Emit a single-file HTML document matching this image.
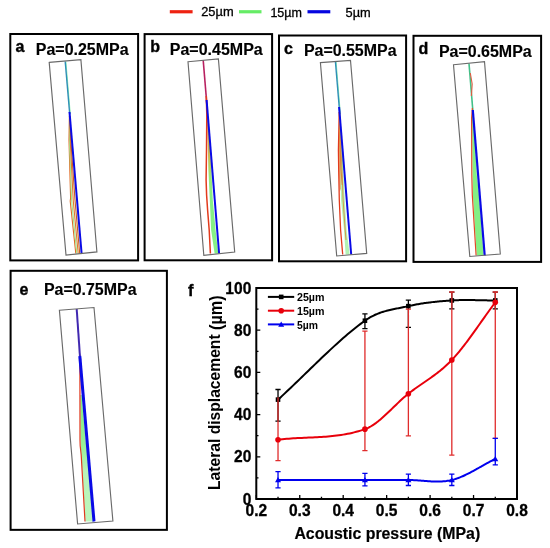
<!DOCTYPE html>
<html><head><meta charset="utf-8"><title>Figure</title>
<style>
html,body{margin:0;padding:0;background:#fff;}
body{width:550px;height:548px;overflow:hidden;}
svg{display:block;font-family:"Liberation Sans", Arial, sans-serif;}
</style></head>
<body>
<svg width="550" height="548" viewBox="0 0 550 548">
<defs><linearGradient id="gb" x1="0" y1="115" x2="0" y2="253" gradientUnits="userSpaceOnUse"><stop offset="0" stop-color="#e08a38"/><stop offset="0.3" stop-color="#c8c058"/><stop offset="0.45" stop-color="#9ae878"/><stop offset="0.6" stop-color="#86f086"/><stop offset="1" stop-color="#86f086"/></linearGradient><linearGradient id="ge" x1="0" y1="395" x2="0" y2="521" gradientUnits="userSpaceOnUse"><stop offset="0" stop-color="#80ee80"/><stop offset="0.4" stop-color="#98f098"/><stop offset="0.6" stop-color="#b8f4b8"/><stop offset="1" stop-color="#bcf6bc"/></linearGradient></defs>
<rect width="550" height="548" fill="#fff"/>
<line x1="169.8" y1="11.75" x2="192.6" y2="11.75" stroke="#ee2211" stroke-width="3.2"/>
<text x="201.2" y="16" font-size="12.2" font-weight="normal" text-anchor="start" fill="#000" textLength="32.4" lengthAdjust="spacingAndGlyphs" stroke="#000" stroke-width="0.3">25µm</text>
<line x1="239" y1="11.75" x2="261.5" y2="11.75" stroke="#66ec66" stroke-width="3.2"/>
<text x="270.4" y="16.5" font-size="12.2" font-weight="normal" text-anchor="start" fill="#000" textLength="31.6" lengthAdjust="spacingAndGlyphs" stroke="#000" stroke-width="0.3">15µm</text>
<line x1="307.5" y1="11.75" x2="330.3" y2="11.75" stroke="#0606e0" stroke-width="3.2"/>
<text x="345.6" y="17.4" font-size="12.2" font-weight="normal" text-anchor="start" fill="#000" textLength="25.2" lengthAdjust="spacingAndGlyphs" stroke="#000" stroke-width="0.3">5µm</text>
<rect x="10.3" y="34" width="127.8" height="226.4" fill="none" stroke="#000" stroke-width="2"/>
<text x="15.6" y="52.2" font-size="16" font-weight="bold" text-anchor="start" fill="#000" stroke="#000" stroke-width="0.35">a</text>
<text x="35.8" y="54.9" font-size="16" font-weight="bold" text-anchor="start" fill="#000" textLength="92.8" lengthAdjust="spacingAndGlyphs" stroke="#000" stroke-width="0.15">Pa=0.25MPa</text>
<path d="M65.9 61.5 L70.3 114" fill="none" stroke="#8cf0b0" stroke-width="1.0" stroke-linejoin="round" stroke-linecap="butt" opacity="1"/>
<path d="M65.2 61.5 L69.7 114" fill="none" stroke="#2f8fb8" stroke-width="1.4" stroke-linejoin="round" stroke-linecap="butt" opacity="1"/>
<path d="M69.4 116 L69 140 L70.6 198 L70.2 201 L75.8 253.5" fill="none" stroke="#e06a24" stroke-width="1.1" stroke-linejoin="round" stroke-linecap="butt" opacity="1"/>
<path d="M69.5 116 L69.5 140 L71.6 200 L76.8 253.5" fill="none" stroke="#a0e890" stroke-width="1.1" stroke-linejoin="round" stroke-linecap="butt" opacity="1"/>
<path d="M69.7 116 L70.2 140 L73.2 200 L78.2 253.5" fill="none" stroke="#e07a30" stroke-width="1.1" stroke-linejoin="round" stroke-linecap="butt" opacity="1"/>
<path d="M69.9 116 L70.8 140 L75 200 L79.7 253.5" fill="none" stroke="#c86020" stroke-width="1.1" stroke-linejoin="round" stroke-linecap="butt" opacity="1"/>
<path d="M69.5 112 L81.6 253.5" fill="none" stroke="#0a0ae6" stroke-width="2.0" stroke-linejoin="round" stroke-linecap="butt" opacity="1"/>
<path d="M49.2 62.4 L80.9 59.6 L96.9 251.9 L66 255.1 Z" fill="none" stroke="#6a6a6a" stroke-width="1.15"/>
<rect x="144.6" y="34.1" width="127.5" height="226.2" fill="none" stroke="#000" stroke-width="2"/>
<text x="150.2" y="52.3" font-size="16" font-weight="bold" text-anchor="start" fill="#000" stroke="#000" stroke-width="0.35">b</text>
<text x="169.8" y="54.7" font-size="16" font-weight="bold" text-anchor="start" fill="#000" textLength="92.9" lengthAdjust="spacingAndGlyphs" stroke="#000" stroke-width="0.15">Pa=0.45MPa</text>
<path d="M207 115 L207.6 140 L208.4 170 L209.8 200 L211.1 230 L214.6 253.5 L218.2 253.5 L215.6 230 L212.8 200 L211.4 170 L209.6 140 L207.8 115Z" fill="url(#gb)" stroke="none" opacity="1"/>
<path d="M203.2 60.2 L207 106" fill="none" stroke="#b82060" stroke-width="1.6" stroke-linejoin="round" stroke-linecap="butt" opacity="1"/>
<path d="M206.3 96 L206.8 115 L206.5 150 L206.1 180 L206.6 195 L207.6 210 L209.2 230 L210.4 253.5" fill="none" stroke="#e23a1c" stroke-width="1.5" stroke-linejoin="round" stroke-linecap="butt" opacity="1"/>
<path d="M206.6 100 L219.1 253.5" fill="none" stroke="#0a0ae6" stroke-width="2.0" stroke-linejoin="round" stroke-linecap="butt" opacity="1"/>
<path d="M188 61.8 L218.4 59 L234.7 252.1 L203.8 255.3 Z" fill="none" stroke="#6a6a6a" stroke-width="1.15"/>
<rect x="279" y="35.5" width="127.1" height="225.8" fill="none" stroke="#000" stroke-width="2"/>
<text x="284" y="53.6" font-size="16" font-weight="bold" text-anchor="start" fill="#000" stroke="#000" stroke-width="0.35">c</text>
<text x="303.9" y="55.9" font-size="16" font-weight="bold" text-anchor="start" fill="#000" textLength="92.6" lengthAdjust="spacingAndGlyphs" stroke="#000" stroke-width="0.15">Pa=0.55MPa</text>
<path d="M339.3 114 L338.6 150 L338.9 175 L339.6 192 L342.6 185 L341.6 160 L340.2 125Z" fill="#e8a060" stroke="none" opacity="0.85"/>
<path d="M340.4 160 L341 200 L344 230 L345.6 254.5 L349.6 254.5 L346.6 230 L344.8 200 L343.2 170 L342 160Z" fill="#b4f2b4" stroke="none" opacity="1"/>
<path d="M336.1 61.5 L340.4 114" fill="none" stroke="#8cf0b0" stroke-width="1.0" stroke-linejoin="round" stroke-linecap="butt" opacity="1"/>
<path d="M335.4 61.5 L339.8 114" fill="none" stroke="#2f8fb8" stroke-width="1.4" stroke-linejoin="round" stroke-linecap="butt" opacity="1"/>
<path d="M339.2 112 L338.4 150 L338.7 170 L339.3 200 L340.6 230 L342.7 254.5" fill="none" stroke="#e23a1c" stroke-width="1.3" stroke-linejoin="round" stroke-linecap="butt" opacity="1"/>
<path d="M339.4 112 L340.2 150 L341 170 L342.3 185" fill="none" stroke="#d8883a" stroke-width="1.2" stroke-linejoin="round" stroke-linecap="butt" opacity="1"/>
<path d="M339.6 112 L341.2 150 L342 170 L343.1 200 L345.2 230 L346 240" fill="none" stroke="#d89040" stroke-width="0.9" stroke-linejoin="round" stroke-linecap="butt" opacity="1"/>
<path d="M339.7 112 L342 150 L343 170" fill="none" stroke="#a8e070" stroke-width="1.0" stroke-linejoin="round" stroke-linecap="butt" opacity="1"/>
<path d="M339.1 107 L351.2 254.5" fill="none" stroke="#0a0ae6" stroke-width="2.0" stroke-linejoin="round" stroke-linecap="butt" opacity="1"/>
<path d="M320.4 62.6 L350.5 60.4 L366.7 253.4 L336.7 256 Z" fill="none" stroke="#6a6a6a" stroke-width="1.15"/>
<rect x="413.5" y="35.8" width="127.6" height="226.1" fill="none" stroke="#000" stroke-width="2"/>
<text x="418.6" y="53.9" font-size="16" font-weight="bold" text-anchor="start" fill="#000" stroke="#000" stroke-width="0.35">d</text>
<text x="438.9" y="56.5" font-size="16" font-weight="bold" text-anchor="start" fill="#000" textLength="92.8" lengthAdjust="spacingAndGlyphs" stroke="#000" stroke-width="0.15">Pa=0.65MPa</text>
<path d="M472 112 L472.6 175 L472.9 195 L476.7 255.5 L483.6 255.5 L479 195 L476.8 175 L473.2 112Z" fill="#84f084" stroke="none" opacity="1"/>
<path d="M469 63.5 L473.2 115" fill="none" stroke="#40c088" stroke-width="1.6" stroke-linejoin="round" stroke-linecap="butt" opacity="1"/>
<path d="M470.3 73 L472.2 84 L471.4 96" fill="none" stroke="#e05a40" stroke-width="1.1" stroke-linejoin="round" stroke-linecap="butt" opacity="1"/>
<path d="M472.4 108 L471.6 118 L471.7 150 L471.8 175 L472.3 195 L476.1 255.5" fill="none" stroke="#e04a26" stroke-width="1.2" stroke-linejoin="round" stroke-linecap="butt" opacity="1"/>
<path d="M472.8 110 L484.7 255.5" fill="none" stroke="#0a0ae6" stroke-width="2.2" stroke-linejoin="round" stroke-linecap="butt" opacity="1"/>
<path d="M453.5 64.7 L484.5 61.7 L500.3 254 L469.8 256.5 Z" fill="none" stroke="#6a6a6a" stroke-width="1.15"/>
<rect x="10.6" y="270.8" width="156.3" height="259.05" fill="none" stroke="#000" stroke-width="2"/>
<text x="19.6" y="295" font-size="16" font-weight="bold" text-anchor="start" fill="#000" stroke="#000" stroke-width="0.35">e</text>
<text x="43.9" y="295" font-size="16" font-weight="bold" text-anchor="start" fill="#000" textLength="92.6" lengthAdjust="spacingAndGlyphs" stroke="#000" stroke-width="0.15">Pa=0.75MPa</text>
<path d="M80.3 395 L80.6 440 L81.3 455 L85.4 521.5 L92.8 521.5 L87.6 455 L85.6 440 L81.6 395Z" fill="url(#ge)" stroke="none" opacity="1"/>
<path d="M76.7 309 L80.2 360" fill="none" stroke="#4028b0" stroke-width="2.0" stroke-linejoin="round" stroke-linecap="butt" opacity="1"/>
<path d="M79.5 358 L79.9 370 L80 440 L80.2 446 L81.2 455 L85 521.5" fill="none" stroke="#e03a20" stroke-width="1.2" stroke-linejoin="round" stroke-linecap="butt" opacity="1"/>
<path d="M79.8 356 L94 521.5" fill="none" stroke="#0a0ae6" stroke-width="3.0" stroke-linejoin="round" stroke-linecap="butt" opacity="1"/>
<path d="M59.4 310.3 L94 307.5 L112.9 521 L77.6 524 Z" fill="none" stroke="#6a6a6a" stroke-width="1.15"/>
<text x="188" y="295.7" font-size="16.5" font-weight="bold" text-anchor="start" fill="#000" stroke="#000" stroke-width="0.35">f</text>
<path d="M256.3 499 V495 M299.75 499 V495 M343.2 499 V495 M386.65 499 V495 M430.1 499 V495 M473.55 499 V495 M517 499 V495 M278.02 499 V496.8 M321.48 499 V496.8 M364.93 499 V496.8 M408.38 499 V496.8 M451.82 499 V496.8 M495.28 499 V496.8 M256.3 499 H260.3 M256.3 456.8 H260.3 M256.3 414.6 H260.3 M256.3 372.4 H260.3 M256.3 330.2 H260.3 M256.3 288 H260.3 M256.3 477.9 H258.5 M256.3 435.7 H258.5 M256.3 393.5 H258.5 M256.3 351.3 H258.5 M256.3 309.1 H258.5" stroke="#000" stroke-width="1.3" fill="none"/>
<text transform="translate(251.3 504.6) scale(0.955 1)" font-size="16.3" font-weight="bold" text-anchor="end" fill="#000" stroke="#000" stroke-width="0.3">0</text>
<text transform="translate(251.3 462.4) scale(0.955 1)" font-size="16.3" font-weight="bold" text-anchor="end" fill="#000" stroke="#000" stroke-width="0.3">20</text>
<text transform="translate(251.3 420.2) scale(0.955 1)" font-size="16.3" font-weight="bold" text-anchor="end" fill="#000" stroke="#000" stroke-width="0.3">40</text>
<text transform="translate(251.3 378) scale(0.955 1)" font-size="16.3" font-weight="bold" text-anchor="end" fill="#000" stroke="#000" stroke-width="0.3">60</text>
<text transform="translate(251.3 335.8) scale(0.955 1)" font-size="16.3" font-weight="bold" text-anchor="end" fill="#000" stroke="#000" stroke-width="0.3">80</text>
<text transform="translate(251.3 293.6) scale(0.955 1)" font-size="16.3" font-weight="bold" text-anchor="end" fill="#000" stroke="#000" stroke-width="0.3">100</text>
<text transform="translate(256.3 515.8) scale(0.955 1)" font-size="16.3" font-weight="bold" text-anchor="middle" fill="#000" stroke="#000" stroke-width="0.3">0.2</text>
<text transform="translate(299.75 515.8) scale(0.955 1)" font-size="16.3" font-weight="bold" text-anchor="middle" fill="#000" stroke="#000" stroke-width="0.3">0.3</text>
<text transform="translate(343.2 515.8) scale(0.955 1)" font-size="16.3" font-weight="bold" text-anchor="middle" fill="#000" stroke="#000" stroke-width="0.3">0.4</text>
<text transform="translate(386.65 515.8) scale(0.955 1)" font-size="16.3" font-weight="bold" text-anchor="middle" fill="#000" stroke="#000" stroke-width="0.3">0.5</text>
<text transform="translate(430.1 515.8) scale(0.955 1)" font-size="16.3" font-weight="bold" text-anchor="middle" fill="#000" stroke="#000" stroke-width="0.3">0.6</text>
<text transform="translate(473.55 515.8) scale(0.955 1)" font-size="16.3" font-weight="bold" text-anchor="middle" fill="#000" stroke="#000" stroke-width="0.3">0.7</text>
<text transform="translate(517 515.8) scale(0.955 1)" font-size="16.3" font-weight="bold" text-anchor="middle" fill="#000" stroke="#000" stroke-width="0.3">0.8</text>
<text x="294.4" y="538.5" font-size="16.3" font-weight="bold" text-anchor="start" fill="#000" textLength="185.8" lengthAdjust="spacingAndGlyphs" stroke="#000" stroke-width="0.2">Acoustic pressure (MPa)</text>
<text x="0" y="0" font-size="17.2" font-weight="bold" transform="translate(220.0 490) rotate(-90)" textLength="155.6" lengthAdjust="spacingAndGlyphs" fill="#000">Lateral displacement</text>
<text x="0" y="0" font-size="17.6" font-weight="bold" transform="translate(221.6 330) rotate(-90)" textLength="34.6" lengthAdjust="spacingAndGlyphs" fill="#000">(µm)</text>
<path d="M278.02 389.49 V421.14 M275.42 389.49 H280.62 M275.42 421.14 H280.62 M364.93 313.95 V328.72 M362.32 313.95 H367.53 M362.32 328.72 H367.53 M408.38 300.03 V327.46 M405.77 300.03 H410.98 M405.77 327.46 H410.98 M451.82 292.22 V308.89 M449.22 292.22 H454.43 M449.22 308.89 H454.43 M495.28 292.22 V308.89 M492.68 292.22 H497.88 M492.68 308.89 H497.88" stroke="#000000" stroke-width="1.3" fill="none"/>
<path d="M278.02 399.62 L280.2 397.64 L282.37 395.63 L284.54 393.61 L286.71 391.58 L288.89 389.53 L291.06 387.46 L293.23 385.39 L295.4 383.31 L297.58 381.21 L299.75 379.11 L301.92 377.01 L304.09 374.9 L306.27 372.79 L308.44 370.68 L310.61 368.57 L312.78 366.46 L314.96 364.36 L317.13 362.26 L319.3 360.17 L321.48 358.09 L323.65 356.02 L325.82 353.96 L327.99 351.91 L330.17 349.88 L332.34 347.87 L334.51 345.87 L336.68 343.89 L338.86 341.94 L341.03 340.01 L343.2 338.1 L345.37 336.22 L347.55 334.36 L349.72 332.54 L351.89 330.74 L354.06 328.98 L356.24 327.25 L358.41 325.56 L360.58 323.9 L362.75 322.28 L364.93 320.71 L366.01 319.94 L367.1 319.22 L368.18 318.52 L369.27 317.86 L370.36 317.24 L371.44 316.64 L372.53 316.07 L373.62 315.53 L374.7 315.01 L375.79 314.52 L376.87 314.06 L377.96 313.62 L379.05 313.2 L380.13 312.8 L381.22 312.42 L382.31 312.07 L383.39 311.72 L384.48 311.4 L385.56 311.09 L386.65 310.8 L387.74 310.52 L388.82 310.25 L389.91 309.99 L391 309.74 L392.08 309.5 L393.17 309.26 L394.25 309.04 L395.34 308.82 L396.43 308.6 L397.51 308.38 L398.6 308.17 L399.69 307.96 L400.77 307.75 L401.86 307.53 L402.94 307.31 L404.03 307.09 L405.12 306.87 L406.2 306.63 L407.29 306.39 L408.38 306.15 L409.46 305.9 L410.55 305.65 L411.63 305.42 L412.72 305.19 L413.81 304.97 L414.89 304.76 L415.98 304.55 L417.06 304.35 L418.15 304.15 L419.24 303.97 L420.32 303.78 L421.41 303.61 L422.5 303.44 L423.58 303.27 L424.67 303.11 L425.75 302.96 L426.84 302.81 L427.93 302.66 L429.01 302.52 L430.1 302.39 L431.19 302.26 L432.27 302.13 L433.36 302.01 L434.44 301.89 L435.53 301.78 L436.62 301.67 L437.7 301.56 L438.79 301.46 L439.88 301.36 L440.96 301.26 L442.05 301.17 L443.13 301.08 L444.22 300.99 L445.31 300.91 L446.39 300.83 L447.48 300.75 L448.57 300.67 L449.65 300.59 L450.74 300.52 L451.82 300.45 L452.91 300.38 L454 300.32 L455.08 300.27 L456.17 300.22 L457.26 300.18 L458.34 300.14 L459.43 300.11 L460.51 300.08 L461.6 300.06 L462.69 300.05 L463.77 300.04 L464.86 300.03 L465.95 300.03 L467.03 300.03 L468.12 300.03 L469.2 300.04 L470.29 300.05 L471.38 300.06 L472.46 300.08 L473.55 300.09 L474.64 300.11 L475.72 300.13 L476.81 300.15 L477.9 300.18 L478.98 300.2 L480.07 300.22 L481.15 300.25 L482.24 300.27 L483.33 300.29 L484.41 300.32 L485.5 300.34 L486.59 300.36 L487.67 300.38 L488.76 300.39 L489.84 300.41 L490.93 300.42 L492.02 300.43 L493.1 300.44 L494.19 300.45 L495.28 300.45" stroke="#000000" stroke-width="2" fill="none" stroke-linejoin="round"/>
<rect x="275.72" y="397.32" width="4.6" height="4.6" fill="#000000"/>
<rect x="362.62" y="318.41" width="4.6" height="4.6" fill="#000000"/>
<rect x="406.07" y="303.85" width="4.6" height="4.6" fill="#000000"/>
<rect x="449.52" y="298.15" width="4.6" height="4.6" fill="#000000"/>
<rect x="492.98" y="298.15" width="4.6" height="4.6" fill="#000000"/>
<path d="M278.02 397.3 V460.6 M275.42 460.6 H280.62 M364.93 331.04 V450.68 M362.32 331.04 H367.53 M362.32 450.68 H367.53 M408.38 309.1 V435.91 M405.77 309.1 H410.98 M405.77 435.91 H410.98 M451.82 292.01 V455.11 M449.22 292.01 H454.43 M449.22 455.11 H454.43 M495.28 292.01 V438.44 M492.68 292.01 H497.88 M492.68 438.44 H497.88" stroke="#e02c2c" stroke-width="1.3" fill="none"/>
<path d="M278.02 439.71 L280.2 439.46 L282.37 439.23 L284.54 439.02 L286.71 438.84 L288.89 438.67 L291.06 438.51 L293.23 438.37 L295.4 438.24 L297.58 438.12 L299.75 438.01 L301.92 437.91 L304.09 437.81 L306.27 437.71 L308.44 437.62 L310.61 437.52 L312.78 437.42 L314.96 437.31 L317.13 437.2 L319.3 437.08 L321.48 436.95 L323.65 436.8 L325.82 436.64 L327.99 436.47 L330.17 436.28 L332.34 436.06 L334.51 435.83 L336.68 435.57 L338.86 435.28 L341.03 434.97 L343.2 434.63 L345.37 434.25 L347.55 433.84 L349.72 433.4 L351.89 432.92 L354.06 432.4 L356.24 431.84 L358.41 431.24 L360.58 430.59 L362.75 429.9 L364.93 429.16 L366.01 428.75 L367.1 428.29 L368.18 427.79 L369.27 427.24 L370.36 426.64 L371.44 426.01 L372.53 425.33 L373.62 424.62 L374.7 423.87 L375.79 423.09 L376.87 422.27 L377.96 421.43 L379.05 420.56 L380.13 419.66 L381.22 418.74 L382.31 417.8 L383.39 416.83 L384.48 415.85 L385.56 414.85 L386.65 413.84 L387.74 412.82 L388.82 411.79 L389.91 410.75 L391 409.7 L392.08 408.65 L393.17 407.59 L394.25 406.54 L395.34 405.49 L396.43 404.44 L397.51 403.4 L398.6 402.36 L399.69 401.34 L400.77 400.32 L401.86 399.32 L402.94 398.34 L404.03 397.37 L405.12 396.42 L406.2 395.49 L407.29 394.59 L408.38 393.71 L409.46 392.85 L410.55 392.01 L411.63 391.19 L412.72 390.37 L413.81 389.57 L414.89 388.78 L415.98 388 L417.06 387.23 L418.15 386.47 L419.24 385.71 L420.32 384.96 L421.41 384.21 L422.5 383.46 L423.58 382.72 L424.67 381.98 L425.75 381.23 L426.84 380.48 L427.93 379.73 L429.01 378.98 L430.1 378.22 L431.19 377.45 L432.27 376.67 L433.36 375.89 L434.44 375.09 L435.53 374.28 L436.62 373.46 L437.7 372.63 L438.79 371.78 L439.88 370.91 L440.96 370.03 L442.05 369.12 L443.13 368.2 L444.22 367.26 L445.31 366.29 L446.39 365.3 L447.48 364.29 L448.57 363.24 L449.65 362.17 L450.74 361.08 L451.82 359.95 L452.91 358.79 L454 357.61 L455.08 356.4 L456.17 355.16 L457.26 353.89 L458.34 352.6 L459.43 351.29 L460.51 349.96 L461.6 348.6 L462.69 347.23 L463.77 345.83 L464.86 344.42 L465.95 343 L467.03 341.55 L468.12 340.1 L469.2 338.63 L470.29 337.14 L471.38 335.65 L472.46 334.15 L473.55 332.64 L474.64 331.12 L475.72 329.6 L476.81 328.07 L477.9 326.53 L478.98 325 L480.07 323.46 L481.15 321.92 L482.24 320.38 L483.33 318.84 L484.41 317.31 L485.5 315.78 L486.59 314.25 L487.67 312.73 L488.76 311.22 L489.84 309.71 L490.93 308.22 L492.02 306.73 L493.1 305.26 L494.19 303.8 L495.28 302.35" stroke="#e8000b" stroke-width="2" fill="none" stroke-linejoin="round"/>
<circle cx="278.02" cy="439.71" r="2.8" fill="#e8000b"/>
<circle cx="364.93" cy="429.16" r="2.8" fill="#e8000b"/>
<circle cx="408.38" cy="393.71" r="2.8" fill="#e8000b"/>
<circle cx="451.82" cy="359.95" r="2.8" fill="#e8000b"/>
<circle cx="495.28" cy="302.35" r="2.8" fill="#e8000b"/>
<path d="M278.02 471.57 V487.82 M275.42 471.57 H280.62 M275.42 487.82 H280.62 M364.93 473.47 V485.92 M362.32 473.47 H367.53 M362.32 485.92 H367.53 M408.38 474.1 V485.5 M405.77 474.1 H410.98 M405.77 485.5 H410.98 M451.82 474.1 V485.5 M449.22 474.1 H454.43 M449.22 485.5 H454.43 M495.28 438.44 V464.82 M492.68 438.44 H497.88 M492.68 464.82 H497.88" stroke="#0000ee" stroke-width="1.3" fill="none"/>
<path d="M278.02 480.01 L280.2 480.01 L282.37 480.01 L284.54 480.01 L286.71 480.01 L288.89 480.01 L291.06 480.01 L293.23 480.01 L295.4 480.01 L297.58 480.01 L299.75 480.01 L301.92 480.01 L304.09 480.01 L306.27 480.01 L308.44 480.01 L310.61 480.01 L312.78 480.01 L314.96 480.01 L317.13 480.01 L319.3 480.01 L321.48 480.01 L323.65 480.01 L325.82 480.01 L327.99 480.01 L330.17 480.01 L332.34 480.01 L334.51 480.01 L336.68 480.01 L338.86 480.01 L341.03 480.01 L343.2 480.01 L345.37 480.01 L347.55 480.01 L349.72 480.01 L351.89 480.01 L354.06 480.01 L356.24 480.01 L358.41 480.01 L360.58 480.01 L362.75 480.01 L364.93 480.01 L366.01 480.01 L367.1 480.01 L368.18 480.01 L369.27 480.01 L370.36 480.01 L371.44 480.01 L372.53 480.01 L373.62 480.01 L374.7 480.01 L375.79 480.01 L376.87 480.01 L377.96 480.01 L379.05 480.01 L380.13 480.01 L381.22 480.01 L382.31 480.01 L383.39 480.01 L384.48 480.01 L385.56 480.01 L386.65 480.01 L387.74 480.01 L388.82 480.01 L389.91 480.01 L391 480.01 L392.08 480.01 L393.17 480.01 L394.25 480.01 L395.34 480.01 L396.43 480.01 L397.51 480.01 L398.6 480.01 L399.69 480.01 L400.77 480.01 L401.86 480.01 L402.94 480.01 L404.03 480.01 L405.12 480.01 L406.2 480.01 L407.29 480.01 L408.38 480.01 L409.46 480.02 L410.55 480.04 L411.63 480.06 L412.72 480.1 L413.81 480.15 L414.89 480.21 L415.98 480.28 L417.06 480.35 L418.15 480.42 L419.24 480.5 L420.32 480.59 L421.41 480.67 L422.5 480.76 L423.58 480.85 L424.67 480.94 L425.75 481.02 L426.84 481.11 L427.93 481.19 L429.01 481.26 L430.1 481.33 L431.19 481.39 L432.27 481.45 L433.36 481.49 L434.44 481.53 L435.53 481.56 L436.62 481.57 L437.7 481.57 L438.79 481.56 L439.88 481.53 L440.96 481.49 L442.05 481.44 L443.13 481.36 L444.22 481.27 L445.31 481.15 L446.39 481.02 L447.48 480.86 L448.57 480.69 L449.65 480.49 L450.74 480.26 L451.82 480.01 L452.91 479.73 L454 479.43 L455.08 479.1 L456.17 478.75 L457.26 478.38 L458.34 477.99 L459.43 477.57 L460.51 477.14 L461.6 476.69 L462.69 476.22 L463.77 475.73 L464.86 475.23 L465.95 474.71 L467.03 474.19 L468.12 473.64 L469.2 473.09 L470.29 472.52 L471.38 471.95 L472.46 471.37 L473.55 470.78 L474.64 470.18 L475.72 469.58 L476.81 468.97 L477.9 468.36 L478.98 467.75 L480.07 467.14 L481.15 466.52 L482.24 465.9 L483.33 465.29 L484.41 464.68 L485.5 464.07 L486.59 463.47 L487.67 462.87 L488.76 462.28 L489.84 461.69 L490.93 461.11 L492.02 460.55 L493.1 459.99 L494.19 459.44 L495.28 458.91" stroke="#0000ee" stroke-width="2" fill="none" stroke-linejoin="round"/>
<path d="M278.02 477.01 L281.02 482.31 L275.02 482.31 Z" fill="#0000ee"/>
<path d="M364.93 477.01 L367.93 482.31 L361.93 482.31 Z" fill="#0000ee"/>
<path d="M408.38 477.01 L411.38 482.31 L405.38 482.31 Z" fill="#0000ee"/>
<path d="M451.82 477.01 L454.82 482.31 L448.82 482.31 Z" fill="#0000ee"/>
<path d="M495.28 455.91 L498.28 461.21 L492.28 461.21 Z" fill="#0000ee"/>
<rect x="256.3" y="288" width="260.7" height="211" fill="none" stroke="#000" stroke-width="2"/>
<line x1="267.9" y1="296.9" x2="294.2" y2="296.9" stroke="#000000" stroke-width="2"/>
<rect x="278.9" y="294.6" width="4.6" height="4.6" fill="#000000"/>
<line x1="267.9" y1="310.7" x2="294.2" y2="310.7" stroke="#e8000b" stroke-width="2"/>
<circle cx="281.2" cy="310.7" r="2.8" fill="#e8000b"/>
<line x1="267.9" y1="324.4" x2="294.2" y2="324.4" stroke="#0000ee" stroke-width="2"/>
<path d="M281.2 321.4 L284.2 326.7 L278.2 326.7 Z" fill="#0000ee"/>
<text x="297" y="301.1" font-size="10.5" font-weight="bold" text-anchor="start" fill="#000" textLength="27.5" lengthAdjust="spacingAndGlyphs">25µm</text>
<text x="297" y="314.5" font-size="10.5" font-weight="bold" text-anchor="start" fill="#000" textLength="27.5" lengthAdjust="spacingAndGlyphs">15µm</text>
<text x="297" y="328.7" font-size="10.5" font-weight="bold" text-anchor="start" fill="#000" textLength="21" lengthAdjust="spacingAndGlyphs">5µm</text>
</svg>
</body></html>
